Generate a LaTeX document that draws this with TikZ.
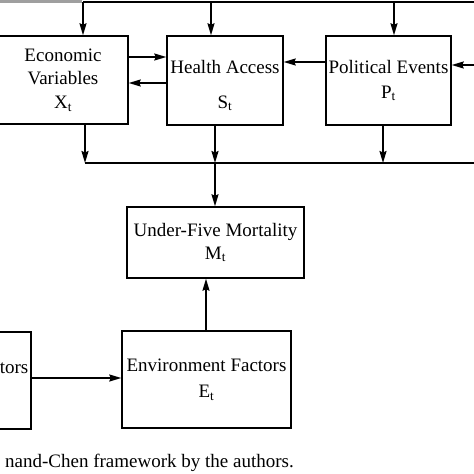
\documentclass[tikz,border=0pt]{standalone}
\usepackage{fontspec}
\setmainfont{Liberation Serif}
\usetikzlibrary{arrows.meta,positioning}

\begin{document}
\begin{tikzpicture}[
      x=1pt, y=-1pt,
      mybox/.style={
         rectangle,
         draw=black,
         line width=1.4pt,
         align=center,
         inner sep=2pt,
         font=\fontsize{19}{23.5}\selectfont},
      mytext/.style={
         align=center,
         inner sep=0pt,
         font=\fontsize{19}{23.5}\selectfont},
      myarrow/.style={line width=1.8pt,-{Stealth[length=12pt,width=7pt,inset=1.5pt]}},
      myline/.style={line width=1.8pt}
      ]
      \useasboundingbox (0,0) rectangle (474,474);
      \fill[gray!75] (0,0) rectangle (82,2.5);
      \node[mybox,minimum width=130pt,minimum height=88pt] (econ) at (63,80) {Economic\\Variables\\X\textsubscript{t}};
      \node[mybox,minimum width=116pt,minimum height=89pt] (health) at (225,80.5) {};
      \node[mytext] (healthtxt) at (225,85.5) {Health Access\\[11.5pt]S\textsubscript{t}};
      \node[mybox,minimum width=125pt,minimum height=89pt,font=\fontsize{19}{25}\selectfont] (pol) at (388.5,80.5) {Political Events\\P\textsubscript{t}};
      \node[mybox,minimum width=177pt,minimum height=71pt,font=\fontsize{19}{23}\selectfont] (mort) at (215.5,242.5) {Under-Five Mortality\\M\textsubscript{t}};
      \node[mybox,minimum width=169pt,minimum height=97pt,font=\fontsize{19}{26}\selectfont] (env) at (206.5,379.5) {Environment Factors\\E\textsubscript{t}};
      \node[mybox,minimum width=131pt,minimum height=97pt] (other) at (-34.5,380.5) {};
      \node[mytext,anchor=east] (othertxt) at (28.5,368) {tors};
      \node[mytext,anchor=west] (caption) at (5,463) {nand-Chen framework by the authors.};
      % top and bottom buses
      \coordinate (topL) at (83,2);
      \coordinate (topR) at (480,2);
      \coordinate (botL) at (85,163);
      \coordinate (botR) at (480,163);
      \coordinate (botM) at (215,163);
      \draw[myline] (topL) -- (topR);
      \draw[myline] (botL) -- (botR);
    \foreach \xx/\nd in {83/econ, 211/health, 394/pol}
      \draw[myarrow] (\xx,2) -- (\xx,0 |- \nd.north);
    \foreach \xx/\nd in {85/econ, 215/health, 383/pol}
      \draw[myarrow] (\xx,0 |- \nd.south) -- (\xx,163);
      \draw[myarrow] (botM) -- (botM |- mort.north);
      \draw[myarrow] (480,65) -- (pol.east |- 0,65);
      \draw[myarrow] (econ.east |- 0,57) -- (health.west |- 0,57);
      \draw[myarrow] (health.west |- 0,83) -- (econ.east |- 0,83);
      \draw[myarrow] (pol.west |- 0,62) -- (health.east |- 0,62);
      \draw[myarrow] (env.north -| 206,0) -- (206,0 |- mort.south);
      \draw[myarrow] (other.east |- 0,378) -- (env.west |- 0,378);
\end{tikzpicture}
\end{document}
